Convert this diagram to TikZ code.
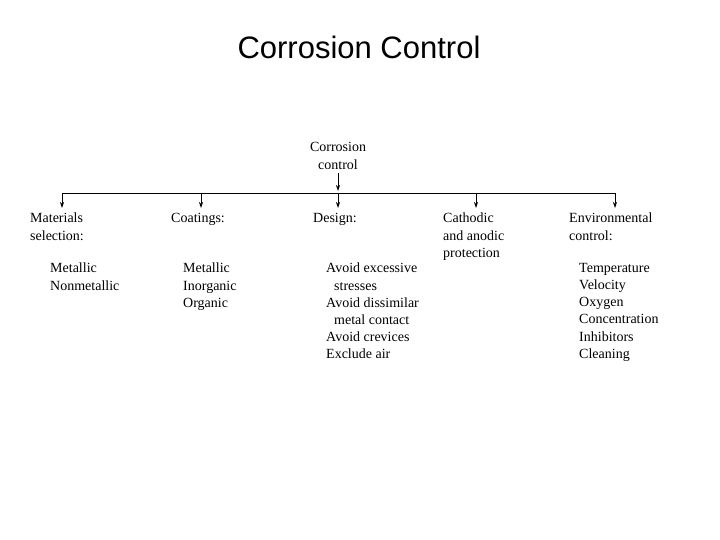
\documentclass[tikz,border=0pt]{standalone}
\usetikzlibrary{arrows.meta}
\usepackage{fontspec}
\setmainfont{Liberation Serif}
\newfontfamily\titlefont{Liberation Sans}
\begin{document}
\begin{tikzpicture}[x=1pt,y=-1pt,
  lbl/.style={anchor=north west,inner sep=0pt,align=left,font=\fontsize{14}{17.2}\selectfont},
  arr/.style={-{Stealth[length=6pt,width=4pt]},line width=0.8pt}]
\useasboundingbox (0,0) rectangle (720,540);
\node[font=\titlefont\fontsize{31}{36}\selectfont] (title) at (359,47) {Corrosion Control};
\node[inner sep=0pt,align=center,font=\fontsize{14}{17.2}\selectfont] (root) at (338,156) {Corrosion\\control};
\coordinate (bl) at (62,193);
\coordinate (br) at (615,193);
\coordinate (bm) at (338,193);
\draw[line width=0.8pt] (bl) -- (br);
\draw[arr,shorten <=3pt,shorten >=2pt] (root.south) -- (bm);
\foreach \x/\n in {62/a,201/b,338/c,476/d,615/e}{
  \coordinate (t\n) at (\x,193);
  \coordinate (h\n) at (\x,208);
  \draw[arr] (t\n) -- (h\n);
}
\node[lbl] (m) at (30,213) {Materials\\selection:};
\node[lbl] (mi) at (50,263) {Metallic\\Nonmetallic};
\node[lbl] (c) at (171,213) {Coatings:};
\node[lbl] (ci) at (183,263) {Metallic\\Inorganic\\Organic};
\node[lbl] (d) at (313,213) {Design:};
\node[lbl] (di) at (326,263) {Avoid excessive\\\hspace*{8pt}stresses\\Avoid dissimilar\\\hspace*{8pt}metal contact\\Avoid crevices\\Exclude air};
\node[lbl] (k) at (443,213) {Cathodic\\and anodic\\protection};
\node[lbl] (e) at (569,213) {Environmental\\control:};
\node[lbl] (ei) at (579,263) {Temperature\\Velocity\\Oxygen\\Concentration\\Inhibitors\\Cleaning};
\end{tikzpicture}
\end{document}
